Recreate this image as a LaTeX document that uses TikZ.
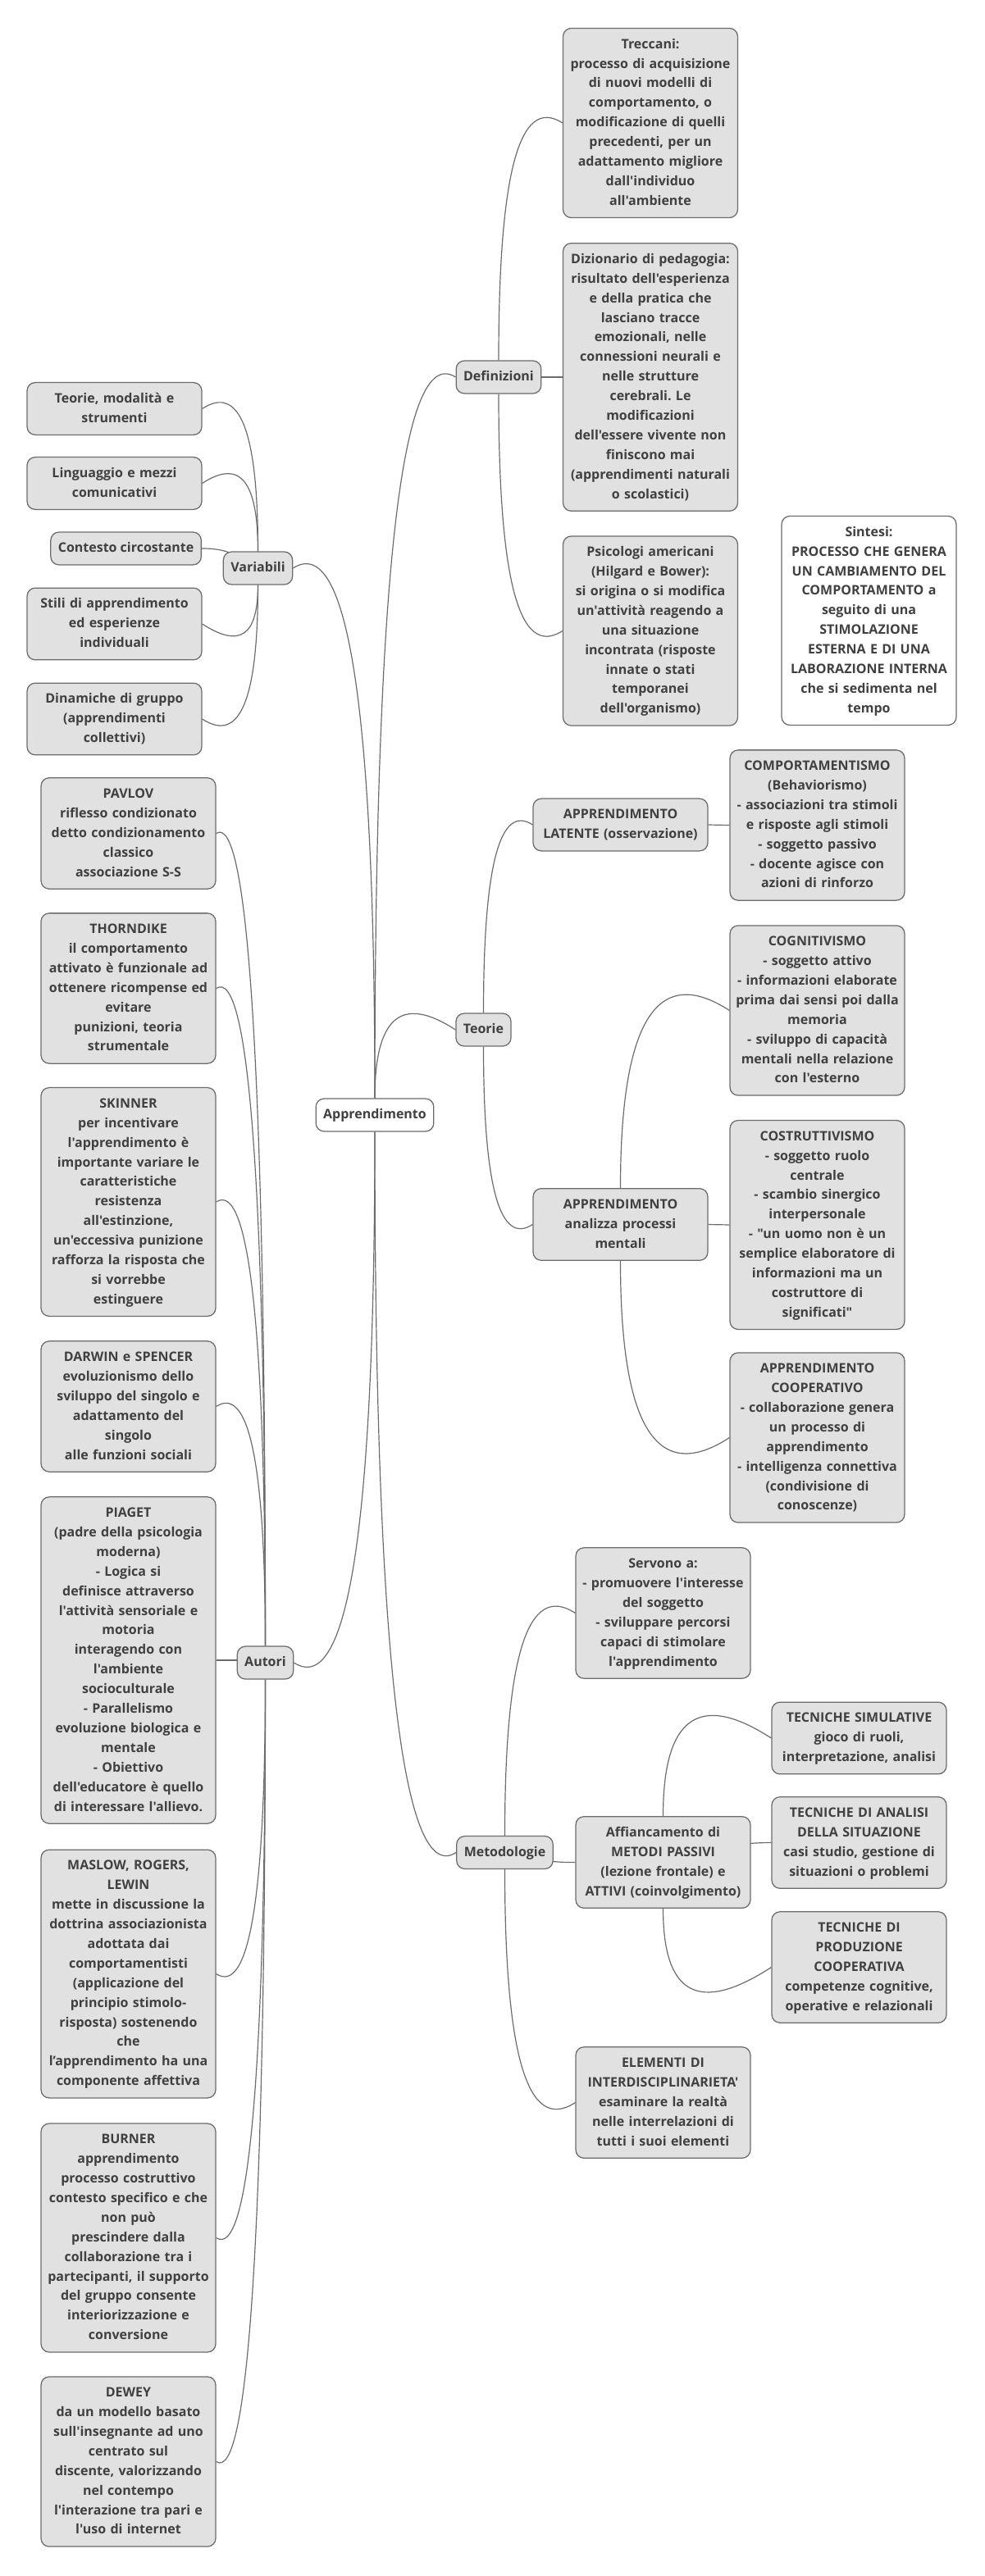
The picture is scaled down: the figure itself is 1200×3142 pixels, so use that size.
\documentclass[tikz,border=0pt]{standalone}
\usepackage{fontspec}
\newfontfamily\mapfont{Open Sans}
\usepackage{xcolor}
\definecolor{boxfill}{HTML}{E1E1E1}
\definecolor{boxline}{HTML}{6B6B6B}
\definecolor{inktext}{HTML}{404040}
\definecolor{wire}{HTML}{6B6B6B}
\pgfdeclarelayer{background}
\pgfsetlayers{background,main}
\frenchspacing

\begin{document}
\begin{tikzpicture}[x=0.02cm,y=0.02cm,
  topic/.style={draw=boxline,line width=0.72pt,rounded corners=0.2cm,fill=boxfill,text=inktext,
    font=\mapfont\bfseries\fontsize{9.1pt}{13.6pt}\selectfont,inner xsep=0.18cm,inner ysep=0.16cm,
    execute at begin node={\noindent\strut},execute at end node=\strut},
  card/.style={topic,text width=4.2cm,align=center,inner xsep=0.03cm},
  root/.style={topic,fill=white},
  link/.style={draw=wire,line width=0.68pt}]
\useasboundingbox (0,0) rectangle (1200,-3142);

\node[root] (app) at (457,-1360) {Apprendimento};

\node[topic] (def) at (608,-460) {Definizioni};
\node[topic] (var) at (314.5,-693) {Variabili};
\node[topic] (teo) at (589.5,-1256) {Teorie};
\node[topic] (aut) at (323.5,-2028) {Autori};
\node[topic] (met) at (615.5,-2259.5) {Metodologie};

\node[card] (tre) at (793,-150) {Treccani:\\processo di acquisizione\\di nuovi modelli di\\comportamento, o\\modificazione di quelli\\precedenti, per un\\adattamento migliore\\dall'individuo\\all'ambiente};
\node[card] (diz) at (793,-460) {Dizionario di pedagogia:\\risultato dell'esperienza\\e della pratica che\\lasciano tracce\\emozionali, nelle\\connessioni neurali e\\nelle strutture\\cerebrali. Le\\modificazioni\\dell'essere vivente non\\finiscono mai\\(apprendimenti naturali\\o scolastici)};
\node[card] (psi) at (793,-769.5) {Psicologi americani\\(Hilgard e Bower):\\si origina o si modifica\\un'attività reagendo a\\una situazione\\incontrata (risposte\\innate o stati\\temporanei\\dell'organismo)};
\node[card,fill=white] (sin) at (1059.5,-757) {Sintesi:\\PROCESSO CHE GENERA\\UN CAMBIAMENTO DEL\\COMPORTAMENTO a\\seguito di una\\STIMOLAZIONE\\ESTERNA E DI UNA\\LABORAZIONE INTERNA\\che si sedimenta nel\\tempo};

\node[card] (tmod) at (139.5,-498.5) {Teorie, modalità e\\strumenti};
\node[card] (lin) at (139.5,-589.5) {Linguaggio e mezzi\\comunicativi};
\node[topic,anchor=east] (con) at (246,-669) {Contesto circostante};
\node[card] (sti) at (139.5,-761) {Stili di apprendimento\\ed esperienze\\individuali};
\node[card] (din) at (139.5,-877) {Dinamiche di gruppo\\(apprendimenti\\collettivi)};

\node[card] (lat) at (756.5,-1006) {APPRENDIMENTO\\LATENTE (osservazione)};
\node[card] (beh) at (996.5,-1006.5) {COMPORTAMENTISMO\\(Behaviorismo)\\- associazioni tra stimoli\\e risposte agli stimoli\\- soggetto passivo\\- docente agisce con\\azioni di rinforzo};
\node[card] (ana) at (756.5,-1493.5) {APPRENDIMENTO\\analizza processi\\mentali};
\node[card] (cog) at (996.5,-1232.5) {COGNITIVISMO\\- soggetto attivo\\- informazioni elaborate\\prima dai sensi poi dalla\\memoria\\- sviluppo di capacità\\mentali nella relazione\\con l'esterno};
\node[card] (cos) at (996.5,-1494) {COSTRUTTIVISMO\\- soggetto ruolo\\centrale\\- scambio sinergico\\interpersonale\\- "un uomo non è un\\semplice elaboratore di\\informazioni ma un\\costruttore di\\significati"};
\node[card] (coo) at (996.5,-1753.5) {APPRENDIMENTO\\COOPERATIVO\\- collaborazione genera\\un processo di\\apprendimento\\- intelligenza connettiva\\(condivisione di\\conoscenze)};

\node[card] (pav) at (156.5,-1016.5) {PAVLOV\\riflesso condizionato\\detto condizionamento\\classico\\associazione S-S};
\node[card] (tho) at (156.5,-1205.5) {THORNDIKE\\il comportamento\\attivato è funzionale ad\\ottenere ricompense ed\\evitare\\punizioni, teoria\\strumentale};
\node[card] (ski) at (156.5,-1466) {SKINNER\\per incentivare\\l'apprendimento è\\importante variare le\\caratteristiche\\resistenza\\all'estinzione,\\un'eccessiva punizione\\rafforza la risposta che\\si vorrebbe\\estinguere};
\node[card] (dar) at (156.5,-1715.5) {DARWIN e SPENCER\\evoluzionismo dello\\sviluppo del singolo e\\adattamento del\\singolo\\alle funzioni sociali};
\node[card] (pia) at (156.5,-2025) {PIAGET\\(padre della psicologia\\moderna)\\- Logica si\\definisce attraverso\\l'attività sensoriale e\\motoria\\interagendo con\\l'ambiente\\socioculturale\\- Parallelismo\\evoluzione biologica e\\mentale\\- Obiettivo\\dell'educatore è quello\\di interessare l'allievo.};
\node[card] (mas) at (156.5,-2407.5) {MASLOW, ROGERS,\\LEWIN\\mette in discussione la\\dottrina associazionista\\adottata dai\\comportamentisti\\(applicazione del\\principio stimolo-\\risposta) sostenendo\\che\\l’apprendimento ha una\\componente affettiva};
\node[card] (bur) at (156.5,-2729.5) {BURNER\\apprendimento\\processo costruttivo\\contesto specifico e che\\non può\\prescindere dalla\\collaborazione tra i\\partecipanti, il supporto\\del gruppo consente\\interiorizzazione e\\conversione};
\node[card] (dew) at (156.5,-3002.5) {DEWEY\\da un modello basato\\sull'insegnante ad uno\\centrato sul\\discente, valorizzando\\nel contempo\\l'interazione tra pari e\\l'uso di internet};

\node[card] (ser) at (808.5,-1967.5) {Servono a:\\- promuovere l'interesse\\del soggetto\\- sviluppare percorsi\\capaci di stimolare\\l'apprendimento};
\node[card] (aff) at (808.5,-2271.5) {Affiancamento di\\METODI PASSIVI\\(lezione frontale) e\\ATTIVI (coinvolgimento)};
\node[card] (ele) at (808.5,-2564.5) {ELEMENTI DI\\INTERDISCIPLINARIETA'\\esaminare la realtà\\nelle interrelazioni di\\tutti i suoi elementi};
\node[card] (tsim) at (1047.5,-2120) {TECNICHE SIMULATIVE\\gioco di ruoli,\\interpretazione, analisi};
\node[card] (tan) at (1047.5,-2247.5) {TECNICHE DI ANALISI\\DELLA SITUAZIONE\\casi studio, gestione di\\situazioni o problemi};
\node[card] (tpro) at (1047.5,-2399.5) {TECNICHE DI\\PRODUZIONE\\COOPERATIVA\\competenze cognitive,\\operative e relazionali};

\begin{pgfonlayer}{background}
\draw[link] (app.north) .. controls +(0,630) and +(-67,43) .. (def.west);
\draw[link] (app.north) .. controls +(0,475) and +(67,43) .. (var.east);
\draw[link] (app.north) .. controls +(0,99) and +(-66,43) .. (teo.west);
\draw[link] (app.south) .. controls +(0,-475) and +(67,-43) .. (aut.east);
\draw[link] (app.south) .. controls +(0,-630) and +(-66,-43) .. (met.west);

\draw[link] (def.north) .. controls +(0,228) and +(-53,34) .. (tre.west);
\draw[link] (def.east) -- (diz.west);
\draw[link] (def.south) .. controls +(0,-228) and +(-53,-34) .. (psi.west);

\draw[link] (var.north) .. controls +(0,146) and +(46,30) .. (tmod.east);
\draw[link] (var.north) .. controls +(0,86) and +(46,30) .. (lin.east);
\draw[link] (var.center) .. controls +(-30,20) and +(25,0) .. (con.east);
\draw[link] (var.south) .. controls +(0,-62) and +(46,-30) .. (sti.east);
\draw[link] (var.south) .. controls +(0,-140) and +(46,-30) .. (din.east);

\draw[link] (teo.north) .. controls +(0,180) and +(-40,26) .. (lat.west);
\draw[link] (lat.east) -- (beh.west);
\draw[link] (teo.south) .. controls +(0,-171) and +(-40,-26) .. (ana.west);
\draw[link] (ana.north) .. controls +(0,202) and +(-89,58) .. (cog.west);
\draw[link] (ana.east) -- (cos.west);
\draw[link] (ana.south) .. controls +(0,-202) and +(-89,-58) .. (coo.west);

\draw[link] (aut.north) .. controls +(0,687) and +(40,26) .. (pav.east);
\draw[link] (aut.north) .. controls +(0,561) and +(40,26) .. (tho.east);
\draw[link] (aut.north) .. controls +(0,388) and +(40,26) .. (ski.east);
\draw[link] (aut.north) .. controls +(0,221) and +(40,26) .. (dar.east);
\draw[link] (pia.east) -- (pia.east -| aut.west);
\draw[link] (aut.south) .. controls +(0,-266) and +(40,-26) .. (mas.east);
\draw[link] (aut.south) .. controls +(0,-481) and +(40,-26) .. (bur.east);
\draw[link] (aut.south) .. controls +(0,-663) and +(40,-26) .. (dew.east);

\draw[link] (met.north) .. controls +(0,219) and +(-58,38) .. (ser.west);
\draw[link] (met.center) .. controls +(50,-12) and +(-20,0) .. (aff.west);
\draw[link] (met.south) .. controls +(0,-228) and +(-58,-38) .. (ele.west);
\draw[link] (aff.north) .. controls +(0,121) and +(-88,57) .. (tsim.west);
\draw[link] (aff.center) .. controls +(70,22) and +(-25,0) .. (tan.west);
\draw[link] (aff.south) .. controls +(0,-106) and +(-88,-57) .. (tpro.west);
\end{pgfonlayer}
\end{tikzpicture}
\end{document}
